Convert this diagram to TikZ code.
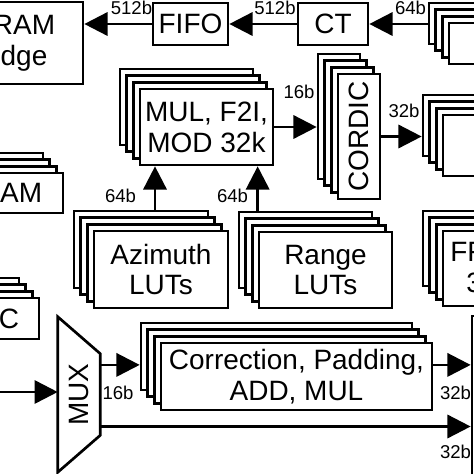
\documentclass[tikz,border=0pt]{standalone}
\usepackage{fontspec}
\usepackage{graphicx}
\setmainfont{Liberation Sans}
\usetikzlibrary{arrows.meta, shadows}

\begin{document}
\begin{tikzpicture}[
    box/.style={draw, line width=1.9pt, fill=white, inner sep=0pt, align=center, font=\fontsize{19.9}{22}\selectfont},
    stack/.style={box,
        copy shadow={shadow xshift=-0.5cm, shadow yshift=0.5cm},
        copy shadow={shadow xshift=-0.333cm, shadow yshift=0.333cm},
        copy shadow={shadow xshift=-0.167cm, shadow yshift=0.167cm}},
    txt/.style={inner sep=0pt, font=\fontsize{19.9}{22}\selectfont},
    lbl/.style={inner sep=0pt, font=\fontsize{13.2}{15}\selectfont},
    arr/.style={-{Triangle[length=16.5pt, width=16.5pt]}, line width=1.9pt}
]
    \useasboundingbox (0,0) rectangle (11.85,-11.85);
    \clip (0,0) rectangle (11.85,-11.85);

    % --- Top row: memory path ---
    \node[box, minimum width=2.95cm, minimum height=2.05cm] (sdram) at (0.6, -1.075) {RAM\\dge};
    \node[box, minimum width=1.875cm, minimum height=1.05cm] (fifo) at (4.7625, -0.6) {FIFO};
    \node[box, minimum width=1.75cm, minimum height=1.05cm] (ct) at (8.325, -0.6) {CT};
    \node[stack, minimum width=2.275cm, minimum height=1.025cm] (buf) at (12.3625, -1.0875) {};

    % --- Middle: address generation ---
    \node[stack, minimum width=3.325cm, minimum height=1.9cm] (mul) at (5.1625, -3.175) {MUL, F2I,\\MOD 32k};
    \node[stack, minimum width=1.05cm, minimum height=3.125cm] (cordic) at (8.975, -3.4125) {\rotatebox{90}{CORDIC}};
    \node[stack, minimum width=2.425cm, minimum height=1.525cm] (rmid) at (12.2875, -3.6375) {};
    \node[stack, minimum width=2.6cm, minimum height=1.0cm] (ram) at (0.275, -4.825) {RAM};
    \node[stack, minimum width=3.35cm, minimum height=1.925cm] (azimuth) at (4.025, -6.7375) {Azimuth\\LUTs};
    \node[stack, minimum width=3.325cm, minimum height=1.9cm] (range) at (8.1375, -6.75) {Range\\LUTs};
    \node[stack, minimum width=2.425cm, minimum height=1.875cm] (fft) at (12.2875, -6.7125) {};
    \node[txt, anchor=west] (fftop) at (11.25, -6.3) {FF};
    \node[txt, anchor=west] (ffbot) at (11.65, -7.075) {3};

    % --- Bottom: data path ---
    \node[stack, minimum width=1.5cm, minimum height=1.025cm] (adc) at (0.225, -7.9625) {C};
    \node[stack, minimum width=6.775cm, minimum height=1.675cm] (corr) at (7.4125, -9.4125) {Correction, Padding,\\ADD, MUL};
    \node[txt, minimum width=1.05cm, minimum height=3.875cm] (mux) at (1.975, -9.8625) {\rotatebox{90}{MUX}};
    \draw[line width=1.9pt] (mux.north west) -- ([yshift=-0.925cm]mux.north east)
        -- ([yshift=0.925cm]mux.south east) -- (mux.south west) -- cycle;
    \node[box, fill=none, minimum width=2.2cm, minimum height=6.1cm] (outb) at (12.9, -10.95) {};

    \coordinate (azup) at ([xshift=-0.15cm]azimuth.north);
    \coordinate (muxsrc) at (-0.5, -9.8);
    \coordinate (muxa) at ([yshift=0.74cm]mux.east);
    \coordinate (muxb) at ([yshift=-0.8cm]mux.east);

    % --- Arrows ---
    \draw[arr] (fifo.west) -- (fifo.west -| sdram.east);
    \draw[arr] (ct.west) -- (fifo.east);
    \draw[arr, shorten <=0.5cm] (ct.east -| buf.west) -- (ct.east);
    \draw[arr, shorten >=0.5cm] (mul.east) -- (mul.east -| cordic.west);
    \draw[arr, shorten >=0.5cm] (cordic.east) -- (cordic.east -| rmid.west);
    \draw[arr, shorten <=0.5cm] (azup) -- (azup |- mul.south);
    \draw[arr, shorten <=0.5cm] (range.north west) -- (range.north west |- mul.south);
    \draw[arr] (muxsrc) -- (muxsrc -| mux.west);
    \draw[arr, shorten >=0.5cm] (muxa) -- (muxa -| corr.west);
    \draw[arr] (muxa -| corr.east) -- (muxa -| outb.west);
    \draw[arr] (muxb) -- (muxb -| outb.west);

    % --- Bus widths ---
    \node[lbl] (w1) at (3.2875, -0.1875) {512b};
    \node[lbl] (w2) at (6.875, -0.1875) {512b};
    \node[lbl] (w3) at (10.2625, -0.1875) {64b};
    \node[lbl] (w4) at (7.475, -2.3) {16b};
    \node[lbl] (w5) at (10.1, -2.7625) {32b};
    \node[lbl] (w6) at (3.0125, -4.9) {64b};
    \node[lbl] (w7) at (5.8125, -4.9) {64b};
    \node[lbl] (w8) at (2.95, -9.8125) {16b};
    \node[lbl] (w9) at (11.3875, -9.8125) {32b};
    \node[lbl] (w10) at (11.3875, -11.2875) {32b};
\end{tikzpicture}
\end{document}
